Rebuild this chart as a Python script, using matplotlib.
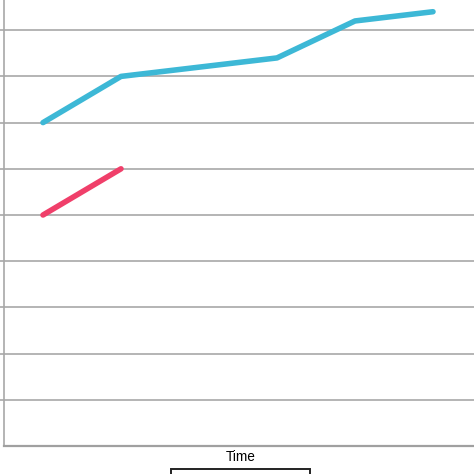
import matplotlib
matplotlib.use("Agg")
import matplotlib.pyplot as plt
from matplotlib.patches import Rectangle

plt.rcParams['font.family'] = ['Liberation Sans', 'DejaVu Sans']

# data (gridline spacing = 1 unit)
time_idx = [0, 1, 2, 3, 4, 5]
blue_vals = [7.0, 8.0, 8.2, 8.4, 9.2, 9.4]
red_idx = [0, 1]
red_vals = [5.0, 6.0]
grid_vals = [1, 2, 3, 4, 5, 6, 7, 8, 9]

W = 474.0
fig = plt.figure(figsize=(4.74, 4.74), dpi=100)
ax = fig.add_axes([4 / W, 28 / W, 470 / W, 446 / W])

ax.plot(time_idx, blue_vals, color='#3db8d6', lw=4.0, solid_capstyle='round', solid_joinstyle='round')
ax.plot(red_idx, red_vals, color='#f03f6a', lw=4.0, solid_capstyle='round')

ax.set_xlim(-0.5, -0.5 + 470 / 78.0)
ax.set_ylim(0, 446 / 46.2)
ax.set_yticks(grid_vals)
ax.set_yticklabels([])
ax.set_xticks([])
ax.grid(axis='y', color='#a8a8a8', lw=1.2)
ax.set_axisbelow(True)
ax.tick_params(axis='y', length=4, width=1.2, color='#a8a8a8')

for s in ['top', 'right']:
    ax.spines[s].set_visible(False)
ax.spines['left'].set_color('#a8a8a8')
ax.spines['left'].set_linewidth(1.2)
ax.spines['bottom'].set_color('#a0a0a0')
ax.spines['bottom'].set_linewidth(1.6)

fig.text(241 / W, 1 - 457 / W, 'Time', ha='center', va='center', fontsize=9.8)

# legend box, cut off by the bottom of the picture
fig.patches.append(Rectangle((171 / W, -10 / W), (310 - 171) / W, (15) / W,
                             transform=fig.transFigure, fill=False,
                             edgecolor='#222222', lw=1.4))

fig.savefig('out.png', dpi=100)
